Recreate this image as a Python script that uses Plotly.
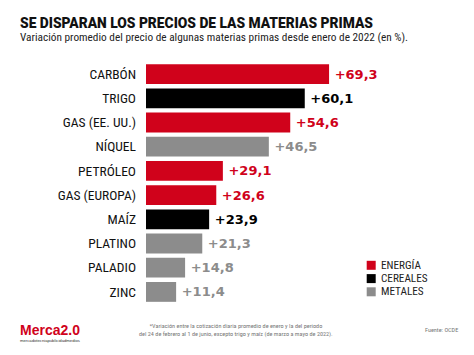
import plotly.graph_objects as go

categories = ["CARBÓN", "TRIGO", "GAS (EE. UU.)", "NÍQUEL", "PETRÓLEO",
              "GAS (EUROPA)", "MAÍZ", "PLATINO", "PALADIO", "ZINC"]
values = [69.3, 60.1, 54.6, 46.5, 29.1, 26.6, 23.9, 21.3, 14.8, 11.4]
groups = ["ENERGÍA", "CEREALES", "ENERGÍA", "METALES", "ENERGÍA",
          "ENERGÍA", "CEREALES", "METALES", "METALES", "METALES"]
legend_labels = ["ENERGÍA", "CEREALES", "METALES"]
title = "SE DISPARAN LOS PRECIOS DE LAS MATERIAS PRIMAS"
subtitle = "Variación promedio del precio de algunas materias primas desde enero de 2022 (en %)."

bar_colors = {"ENERGÍA": "#d0021b", "CEREALES": "#000000", "METALES": "#8c8c8c"}
text_colors = {"ENERGÍA": "#d0021b", "CEREALES": "#000000", "METALES": "#8c8c8c"}

COND = "Roboto Condensed, Roboto, sans-serif"

fig = go.Figure()
fig.add_trace(go.Bar(
    y=categories, x=values, orientation="h",
    marker=dict(color=[bar_colors[g] for g in groups], line=dict(width=0)),
    width=0.82,
    text=["\u2009+" + f"{v:.1f}".replace(".", ",") for v in values],
    textposition="outside",
    textfont=dict(family="DejaVu Sans", size=13, weight="bold",
                  color=[text_colors[g] for g in groups]),
    cliponaxis=False,
    hoverinfo="skip",
))

L, R, T, B = 146, 11, 62, 51
W, H = 474, 355
ph = H - T - B

def py(p):
    return (H - B - p) / ph

def px(p):
    return (p - L) / (W - L - R)

annotations = [
    dict(text=title, x=px(18), y=py(22.8), xanchor="left", yanchor="middle",
         font=dict(family="Roboto", size=13.8, weight=900, color="#111")),
    dict(text=subtitle, x=px(18), y=py(37.7), xanchor="left", yanchor="middle",
         font=dict(family=COND, size=11.3, color="#222")),
    dict(text="<b>Merca2.0</b>", x=px(17.5), y=py(330.2), xanchor="left", yanchor="middle",
         font=dict(family="Liberation Sans", size=14, color="#d0021b")),
    dict(text="mercadotecniapublicidadmedios", x=px(18), y=py(340.4), xanchor="left", yanchor="middle",
         font=dict(family="Liberation Sans", size=4.2, color="#333")),
    dict(text="*Variación entre la cotización diaria promedio de enero y la del periodo<br>"
              "del 24 de febrero al 1 de junio, excepto trigo y maíz (de marzo a mayo de 2022).",
         x=px(236), y=py(330), xanchor="center", yanchor="middle", align="center",
         font=dict(family=COND, size=6.2, color="#777")),
    dict(text="Fuente: OCDE", x=px(423), y=py(330), xanchor="left", yanchor="middle",
         font=dict(family=COND, size=6.2, color="#777")),
]
shapes = []
leg_y = [265.3, 278.6, 291.8]
for lab, yy in zip(legend_labels, leg_y):
    shapes.append(dict(type="rect", xref="paper", yref="paper",
                       x0=px(366.7), x1=px(375.7), y0=py(yy + 4.5), y1=py(yy - 4.5),
                       fillcolor=bar_colors[lab], line=dict(width=0)))
    annotations.append(dict(text=lab, x=px(378.5), y=py(yy), xanchor="left", yanchor="middle",
                            font=dict(family=COND, size=11.2, color="#222")))

for a in annotations:
    a.update(xref="paper", yref="paper", showarrow=False)

fig.update_layout(
    width=W, height=H,
    margin=dict(l=L, r=R, t=T, b=B, pad=0),
    paper_bgcolor="white", plot_bgcolor="white",
    showlegend=False,
    xaxis=dict(range=[0, 120], visible=False, fixedrange=True),
    yaxis=dict(categoryorder="array", categoryarray=categories[::-1],
               autorange=False, range=[-0.5, len(categories) - 0.5],
               showgrid=False, zeroline=False, showline=False, ticks="",
               ticklabelstandoff=9, fixedrange=True,
               tickfont=dict(family=COND, size=13.5, color="#111")),
    annotations=annotations,
    shapes=shapes,
    separators=",.",
)
fig.write_html("out.html", config={"displayModeBar": False},
               post_script="document.body.style.margin='0';document.documentElement.style.margin='0';")
